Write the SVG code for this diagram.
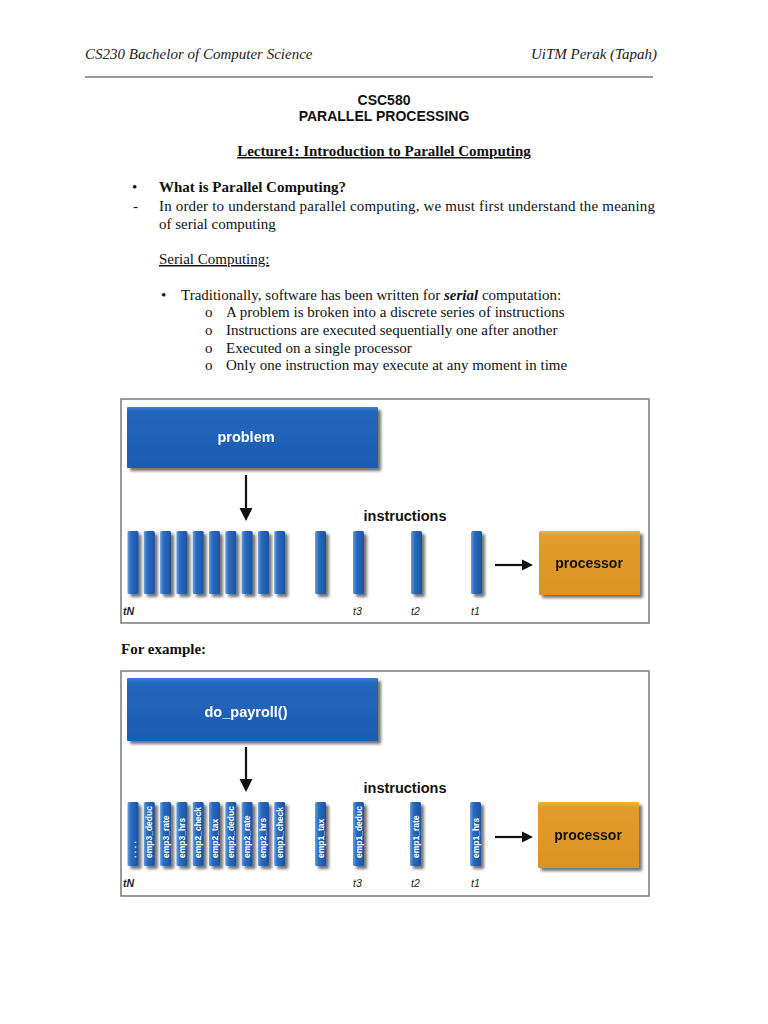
<svg xmlns="http://www.w3.org/2000/svg" width="768" height="1024" viewBox="0 0 768 1024">
<defs>
<style>
.hdr{font-family:"Liberation Serif",serif;font-style:italic;font-size:15px;fill:#222}
.ttl{font-family:"Liberation Sans",Arial,sans-serif;font-weight:bold;font-size:14px;fill:#111}
.body{font-family:"Liberation Serif",serif;font-size:15px;fill:#111}
.b{font-weight:bold}
.boxt{font-family:"Liberation Sans",Arial,sans-serif;font-weight:bold;font-size:14.5px;fill:#fff}
.proct{font-family:"Liberation Sans",Arial,sans-serif;font-weight:bold;font-size:14px;fill:#111}
.instr{font-family:"Liberation Sans",Arial,sans-serif;font-weight:bold;font-size:14.5px;fill:#111}
.tl{font-family:"Liberation Sans",Arial,sans-serif;font-style:italic;font-size:10.5px;fill:#222}
.bl{font-family:"Liberation Sans",Arial,sans-serif;font-weight:bold;font-size:8.5px;fill:#fff}
.frame{fill:#fff;stroke:#7a7a7a;stroke-width:1.5}
.bar{fill:url(#barg)}
.box{fill:url(#boxg)}
.proc{fill:url(#procg)}
.conn{stroke:#111;stroke-width:2.2;fill:none}
</style>
<linearGradient id="barg" x1="0" y1="0" x2="1" y2="0">
<stop offset="0" stop-color="#6a9fe0"/>
<stop offset="0.3" stop-color="#2b6cc2"/>
<stop offset="1" stop-color="#1a52a0"/>
</linearGradient>
<linearGradient id="boxg" x1="0" y1="0" x2="0" y2="1">
<stop offset="0" stop-color="#3a7ccd"/>
<stop offset="0.08" stop-color="#2366bd"/>
<stop offset="1" stop-color="#1c5cb2"/>
</linearGradient>
<linearGradient id="procg" x1="0" y1="0" x2="0" y2="1">
<stop offset="0" stop-color="#f0b040"/>
<stop offset="0.08" stop-color="#e39c2a"/>
<stop offset="1" stop-color="#db9322"/>
</linearGradient>
<filter id="sh" x="-20%" y="-20%" width="150%" height="150%">
<feDropShadow dx="3" dy="3" stdDeviation="1.8" flood-color="#000" flood-opacity="0.55"/>
</filter>
</defs>

<g id="page-text">
<text class="hdr" x="85" y="59">CS230 Bachelor of Computer Science</text>
<text class="hdr" x="657" y="59" text-anchor="end">UiTM Perak (Tapah)</text>
<line x1="85" y1="77" x2="653" y2="77" stroke="#333" stroke-width="1"/>
<text class="ttl" x="384" y="105" text-anchor="middle">CSC580</text>
<text class="ttl" x="384" y="121" text-anchor="middle">PARALLEL PROCESSING</text>
<text class="body b" x="384" y="156" text-anchor="middle" text-decoration="underline">Lecture1: Introduction to Parallel Computing</text>
<text class="body" x="132" y="192" font-size="17">•</text>
<text class="body b" x="159" y="192">What is Parallel Computing?</text>
<text class="body" x="133" y="211">-</text>
<text class="body" x="159" y="211" textLength="496" lengthAdjust="spacing">In order to understand parallel computing, we must first understand the meaning</text>
<text class="body" x="159" y="229">of serial computing</text>
<text class="body" x="159" y="264" text-decoration="underline">Serial Computing:</text>
<text class="body" x="161" y="300" font-size="17">•</text>
<text class="body" x="181" y="300">Traditionally, software has been written for <tspan font-weight="bold" font-style="italic">serial</tspan> computation:</text>
<text class="body" x="205" y="317" font-size="10.5">o</text>
<text class="body" x="226" y="317">A problem is broken into a discrete series of instructions</text>
<text class="body" x="205" y="335" font-size="10.5">o</text>
<text class="body" x="226" y="335">Instructions are executed sequentially one after another</text>
<text class="body" x="205" y="353" font-size="10.5">o</text>
<text class="body" x="226" y="353">Executed on a single processor</text>
<text class="body" x="205" y="370" font-size="10.5">o</text>
<text class="body" x="226" y="370">Only one instruction may execute at any moment in time</text>
<text class="body b" x="121" y="654">For example:</text>
</g>

<!-- Diagram 1 -->
<rect class="frame" x="121" y="399" width="528" height="224"/>
<g id="d1-problem" filter="url(#sh)">
<rect class="box" x="127" y="407" width="251" height="61" rx="1"/>
<text class="boxt" x="246" y="442" text-anchor="middle">problem</text>
</g>
<text class="instr" x="405" y="521" text-anchor="middle">instructions</text>
<g id="d1-bars" filter="url(#sh)">
<rect class="bar" x="127.5" y="531" width="11" height="63" rx="1.5"/>
<rect class="bar" x="143.8" y="531" width="11" height="63" rx="1.5"/>
<rect class="bar" x="160.1" y="531" width="11" height="63" rx="1.5"/>
<rect class="bar" x="176.4" y="531" width="11" height="63" rx="1.5"/>
<rect class="bar" x="192.7" y="531" width="11" height="63" rx="1.5"/>
<rect class="bar" x="209" y="531" width="11" height="63" rx="1.5"/>
<rect class="bar" x="225.3" y="531" width="11" height="63" rx="1.5"/>
<rect class="bar" x="241.6" y="531" width="11" height="63" rx="1.5"/>
<rect class="bar" x="257.9" y="531" width="11" height="63" rx="1.5"/>
<rect class="bar" x="274.2" y="531" width="11" height="63" rx="1.5"/>
<rect class="bar" x="315" y="531" width="11" height="63" rx="1.5"/>
<rect class="bar" x="353" y="531" width="11" height="63" rx="1.5"/>
<rect class="bar" x="411" y="531" width="11" height="63" rx="1.5"/>
<rect class="bar" x="471" y="531" width="11" height="63" rx="1.5"/>
</g>
<g id="d1-processor" filter="url(#sh)">
<rect class="proc" x="539" y="531" width="101" height="64" rx="1"/>
<text class="proct" x="589" y="568" text-anchor="middle">processor</text>
</g>
<g id="d1-labels">
<text class="tl" x="123" y="615" font-weight="bold">tN</text>
<text class="tl" x="353" y="615">t3</text>
<text class="tl" x="411" y="615">t2</text>
<text class="tl" x="471" y="615">t1</text>
</g>

<!-- Diagram 2 -->
<rect class="frame" x="121" y="671" width="528" height="225"/>
<g id="d2-payroll" filter="url(#sh)">
<rect class="box" x="127" y="678" width="251" height="63" rx="1"/>
<text class="boxt" x="246" y="717" text-anchor="middle">do_payroll()</text>
</g>
<text class="instr" x="405" y="793" text-anchor="middle">instructions</text>
<g id="d2-bars">
<g filter="url(#sh)">
<rect class="bar" x="127.5" y="802" width="11" height="64" rx="1.5"/>
<rect class="bar" x="143.8" y="802" width="11" height="64" rx="1.5"/>
<rect class="bar" x="160.1" y="802" width="11" height="64" rx="1.5"/>
<rect class="bar" x="176.4" y="802" width="11" height="64" rx="1.5"/>
<rect class="bar" x="192.7" y="802" width="11" height="64" rx="1.5"/>
<rect class="bar" x="209" y="802" width="11" height="64" rx="1.5"/>
<rect class="bar" x="225.3" y="802" width="11" height="64" rx="1.5"/>
<rect class="bar" x="241.6" y="802" width="11" height="64" rx="1.5"/>
<rect class="bar" x="257.9" y="802" width="11" height="64" rx="1.5"/>
<rect class="bar" x="274.2" y="802" width="11" height="64" rx="1.5"/>
<rect class="bar" x="315" y="802" width="11" height="64" rx="1.5"/>
<rect class="bar" x="353" y="802" width="11" height="64" rx="1.5"/>
<rect class="bar" x="410" y="802" width="11" height="64" rx="1.5"/>
<rect class="bar" x="470" y="802" width="11" height="64" rx="1.5"/>
</g>
<text class="bl" transform="translate(136,858) rotate(-90)" letter-spacing="2.5">....</text>
<text class="bl" transform="translate(152.3,858) rotate(-90)">emp3_deduc</text>
<text class="bl" transform="translate(168.6,858) rotate(-90)">emp3_rate</text>
<text class="bl" transform="translate(184.9,858) rotate(-90)">emp3_hrs</text>
<text class="bl" transform="translate(201.2,858) rotate(-90)">emp2_check</text>
<text class="bl" transform="translate(217.5,858) rotate(-90)">emp2_tax</text>
<text class="bl" transform="translate(233.8,858) rotate(-90)">emp2_deduc</text>
<text class="bl" transform="translate(250.1,858) rotate(-90)">emp2_rate</text>
<text class="bl" transform="translate(266.4,858) rotate(-90)">emp2_hrs</text>
<text class="bl" transform="translate(282.7,858) rotate(-90)">emp1_check</text>
<text class="bl" transform="translate(323.5,858) rotate(-90)">emp1_tax</text>
<text class="bl" transform="translate(361.5,858) rotate(-90)">emp1_deduc</text>
<text class="bl" transform="translate(418.5,858) rotate(-90)">emp1_rate</text>
<text class="bl" transform="translate(478.5,858) rotate(-90)">emp1_hrs</text>
</g>
<g id="d2-processor" filter="url(#sh)">
<rect class="proc" x="538" y="802" width="101" height="66" rx="1"/>
<text class="proct" x="588" y="840" text-anchor="middle">processor</text>
</g>
<g id="d2-labels">
<text class="tl" x="123" y="887" font-weight="bold">tN</text>
<text class="tl" x="353" y="887">t3</text>
<text class="tl" x="411" y="887">t2</text>
<text class="tl" x="471" y="887">t1</text>
</g>

<g id="connectors">
<line class="conn" x1="246" y1="475" x2="246" y2="509"/>
<path d="M239.5,508 L252.5,508 L246,521 Z" fill="#111"/>
<line class="conn" x1="495" y1="565" x2="523" y2="565"/>
<path d="M522,559.5 L533,565 L522,570.5 Z" fill="#111"/>
<line class="conn" x1="246" y1="747" x2="246" y2="780"/>
<path d="M239.5,779 L252.5,779 L246,792 Z" fill="#111"/>
<line class="conn" x1="495" y1="837" x2="523" y2="837"/>
<path d="M522,831.5 L533,837 L522,842.5 Z" fill="#111"/>
</g>
</svg>
